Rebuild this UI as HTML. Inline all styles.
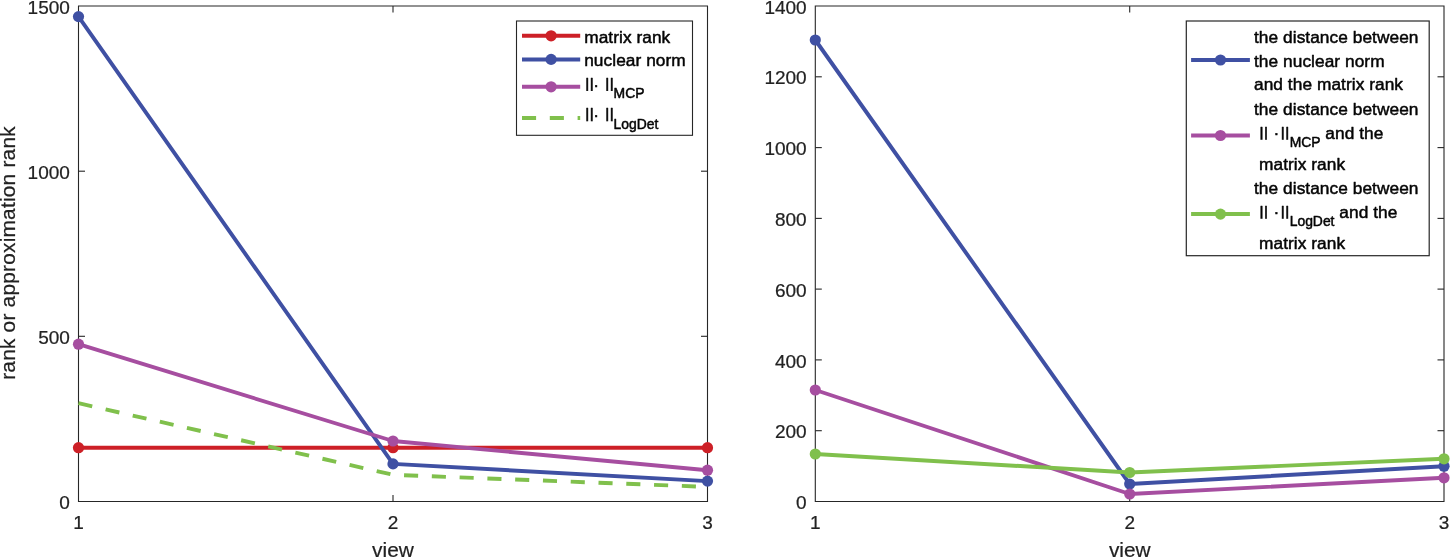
<!DOCTYPE html>
<html><head><meta charset="utf-8"><title>rank approximation</title>
<style>
html,body{margin:0;padding:0;background:#fff;}
body{width:1450px;height:558px;overflow:hidden;position:relative;}
svg{position:absolute;left:0;top:0;display:block;}
text{font-family:"Liberation Sans",Arial,Helvetica,sans-serif;fill:#222;stroke:#222;stroke-width:0.22px;stroke-linejoin:round;}
.lg,.sub{fill:#050505;stroke:#050505;stroke-width:0.48px;}
.tk{font-size:19px;}
.lb{font-size:20.9px;}
.lg{font-size:17.3px;letter-spacing:0.06px;}
.sub{font-size:13.9px;}
</style></head><body>
<svg width="1450" height="558" viewBox="0 0 1450 558">
<rect x="0" y="0" width="1450" height="558" fill="#ffffff"/>
<path d="M78.50 6.00H707.50V501.50H78.50Z" fill="none" stroke="#262626" stroke-width="1.1"/>
<text class="tk" text-anchor="middle" x="78.5" y="529.2">1</text>
<line x1="393.0" y1="501.5" x2="393.0" y2="495.0" stroke="#262626" stroke-width="1.1"/><line x1="393.0" y1="6.0" x2="393.0" y2="12.5" stroke="#262626" stroke-width="1.1"/><text class="tk" text-anchor="middle" x="393.0" y="529.2">2</text>
<text class="tk" text-anchor="middle" x="707.5" y="529.2">3</text>
<text class="tk" text-anchor="end" x="69.9" y="509.1">0</text>
<line x1="78.5" y1="336.3" x2="85.0" y2="336.3" stroke="#262626" stroke-width="1.1"/><line x1="707.5" y1="336.3" x2="701.0" y2="336.3" stroke="#262626" stroke-width="1.1"/><text class="tk" text-anchor="end" x="69.9" y="344.0">500</text>
<line x1="78.5" y1="171.2" x2="85.0" y2="171.2" stroke="#262626" stroke-width="1.1"/><line x1="707.5" y1="171.2" x2="701.0" y2="171.2" stroke="#262626" stroke-width="1.1"/><text class="tk" text-anchor="end" x="69.9" y="178.8">1000</text>
<text class="tk" text-anchor="end" x="69.9" y="13.7">1500</text>
<polyline fill="none" stroke="#cd2027" stroke-width="3.9" stroke-linejoin="round"  points="78.5,447.7 393.0,447.7 707.5,447.7"/><circle cx="78.5" cy="447.7" r="5.6" fill="#cd2027"/><circle cx="393.0" cy="447.7" r="5.6" fill="#cd2027"/><circle cx="707.5" cy="447.7" r="5.6" fill="#cd2027"/>
<polyline fill="none" stroke="#3f50a3" stroke-width="3.9" stroke-linejoin="round"  points="78.5,16.6 393.0,463.9 707.5,481.1"/><circle cx="78.5" cy="16.6" r="5.6" fill="#3f50a3"/><circle cx="393.0" cy="463.9" r="5.6" fill="#3f50a3"/><circle cx="707.5" cy="481.1" r="5.6" fill="#3f50a3"/>
<polyline fill="none" stroke="#a64ea0" stroke-width="3.9" stroke-linejoin="round"  points="78.5,344.2 393.0,441.0 707.5,470.2"/><circle cx="78.5" cy="344.2" r="5.6" fill="#a64ea0"/><circle cx="393.0" cy="441.0" r="5.6" fill="#a64ea0"/><circle cx="707.5" cy="470.2" r="5.6" fill="#a64ea0"/>
<polyline fill="none" stroke="#80c04c" stroke-width="3.9" stroke-linejoin="round" stroke-dasharray="14.1 13.7" points="78.5,403.2 393.0,474.8 707.5,486.9"/>
<text class="lb" text-anchor="middle" x="393" y="557.2">view</text>
<text class="lb" style="letter-spacing:0.2px" text-anchor="middle" transform="translate(15.3,253.0) rotate(-90)">rank or approximation rank</text>
<path d="M815.30 6.00H1444.00V501.50H815.30Z" fill="none" stroke="#262626" stroke-width="1.1"/>
<text class="tk" text-anchor="middle" x="815.3" y="529.2">1</text>
<line x1="1129.7" y1="501.5" x2="1129.7" y2="495.0" stroke="#262626" stroke-width="1.1"/><line x1="1129.7" y1="6.0" x2="1129.7" y2="12.5" stroke="#262626" stroke-width="1.1"/><text class="tk" text-anchor="middle" x="1129.7" y="529.2">2</text>
<text class="tk" text-anchor="middle" x="1444.0" y="529.2">3</text>
<text class="tk" text-anchor="end" x="806.7" y="509.1">0</text>
<line x1="815.3" y1="430.7" x2="821.8" y2="430.7" stroke="#262626" stroke-width="1.1"/><line x1="1444.0" y1="430.7" x2="1437.5" y2="430.7" stroke="#262626" stroke-width="1.1"/><text class="tk" text-anchor="end" x="806.7" y="438.4">200</text>
<line x1="815.3" y1="359.9" x2="821.8" y2="359.9" stroke="#262626" stroke-width="1.1"/><line x1="1444.0" y1="359.9" x2="1437.5" y2="359.9" stroke="#262626" stroke-width="1.1"/><text class="tk" text-anchor="end" x="806.7" y="367.6">400</text>
<line x1="815.3" y1="289.1" x2="821.8" y2="289.1" stroke="#262626" stroke-width="1.1"/><line x1="1444.0" y1="289.1" x2="1437.5" y2="289.1" stroke="#262626" stroke-width="1.1"/><text class="tk" text-anchor="end" x="806.7" y="296.8">600</text>
<line x1="815.3" y1="218.4" x2="821.8" y2="218.4" stroke="#262626" stroke-width="1.1"/><line x1="1444.0" y1="218.4" x2="1437.5" y2="218.4" stroke="#262626" stroke-width="1.1"/><text class="tk" text-anchor="end" x="806.7" y="226.0">800</text>
<line x1="815.3" y1="147.6" x2="821.8" y2="147.6" stroke="#262626" stroke-width="1.1"/><line x1="1444.0" y1="147.6" x2="1437.5" y2="147.6" stroke="#262626" stroke-width="1.1"/><text class="tk" text-anchor="end" x="806.7" y="155.2">1000</text>
<line x1="815.3" y1="76.8" x2="821.8" y2="76.8" stroke="#262626" stroke-width="1.1"/><line x1="1444.0" y1="76.8" x2="1437.5" y2="76.8" stroke="#262626" stroke-width="1.1"/><text class="tk" text-anchor="end" x="806.7" y="84.4">1200</text>
<text class="tk" text-anchor="end" x="806.7" y="13.7">1400</text>
<polyline fill="none" stroke="#3f50a3" stroke-width="3.9" stroke-linejoin="round"  points="815.3,40.0 1129.7,484.0 1444.0,466.2"/><circle cx="815.3" cy="40.0" r="5.6" fill="#3f50a3"/><circle cx="1129.7" cy="484.0" r="5.6" fill="#3f50a3"/><circle cx="1444.0" cy="466.2" r="5.6" fill="#3f50a3"/>
<polyline fill="none" stroke="#a64ea0" stroke-width="3.9" stroke-linejoin="round"  points="815.3,390.0 1129.7,494.0 1444.0,477.8"/><circle cx="815.3" cy="390.0" r="5.6" fill="#a64ea0"/><circle cx="1129.7" cy="494.0" r="5.6" fill="#a64ea0"/><circle cx="1444.0" cy="477.8" r="5.6" fill="#a64ea0"/>
<polyline fill="none" stroke="#80c04c" stroke-width="3.9" stroke-linejoin="round"  points="815.3,454.0 1129.7,472.5 1444.0,458.8"/><circle cx="815.3" cy="454.0" r="5.6" fill="#80c04c"/><circle cx="1129.7" cy="472.5" r="5.6" fill="#80c04c"/><circle cx="1444.0" cy="458.8" r="5.6" fill="#80c04c"/>
<text class="lb" text-anchor="middle" x="1129.8" y="557.2">view</text>
<rect x="516.5" y="21" width="176" height="114.3" fill="#fff" stroke="#262626" stroke-width="1.1"/>
<line x1="522.0" y1="35.8" x2="580.2" y2="35.8" stroke="#cd2027" stroke-width="4" /><circle cx="551.1" cy="35.8" r="5.6" fill="#cd2027"/>
<text class="lg" x="584.2" y="42.8">matrix rank</text>
<line x1="522.0" y1="59.4" x2="580.2" y2="59.4" stroke="#3f50a3" stroke-width="4" /><circle cx="551.1" cy="59.4" r="5.6" fill="#3f50a3"/>
<text class="lg" x="584.2" y="66.4">nuclear norm</text>
<line x1="522.0" y1="86.8" x2="580.2" y2="86.8" stroke="#a64ea0" stroke-width="4" /><circle cx="551.1" cy="86.8" r="5.6" fill="#a64ea0"/>
<text class="lg" x="585.0" y="89.9" clip-path="url(#c90)">||</text><text class="lg" text-anchor="middle" x="596.2" y="90.6">·</text><text class="lg" x="604.9" y="89.9" clip-path="url(#c90)">||</text><text class="sub" x="613.6" y="98.3">MCP</text><clipPath id="c90"><rect x="580.0" y="70.6" width="60" height="20.5"/></clipPath>
<line x1="522.0" y1="118.0" x2="580.2" y2="118.0" stroke="#80c04c" stroke-width="4" stroke-dasharray="14.1 13.7"/>
<text class="lg" x="585.0" y="120.0" clip-path="url(#c120)">||</text><text class="lg" text-anchor="middle" x="596.2" y="120.7">·</text><text class="lg" x="604.9" y="120.0" clip-path="url(#c120)">||</text><text class="sub" x="613.6" y="128.6">LogDet</text><clipPath id="c120"><rect x="580.0" y="100.7" width="60" height="20.5"/></clipPath>
<rect x="1186.3" y="21" width="242.9" height="234.7" fill="#fff" stroke="#262626" stroke-width="1.2"/>
<line x1="1191.1" y1="60.0" x2="1249.9" y2="60.0" stroke="#3f50a3" stroke-width="4" /><circle cx="1220.5" cy="60.0" r="5.6" fill="#3f50a3"/>
<text class="lg" x="1254.0" y="42.8">the distance between</text>
<text class="lg" x="1254.0" y="66.6">the nuclear norm</text>
<text class="lg" x="1254.0" y="90.3">and the matrix rank</text>
<text class="lg" x="1254.0" y="115.2">the distance between</text>
<text class="lg" x="1259.0" y="169.9">matrix rank</text>
<text class="lg" x="1254.0" y="194.2">the distance between</text>
<text class="lg" x="1259.0" y="248.5">matrix rank</text>
<line x1="1191.1" y1="135.5" x2="1249.9" y2="135.5" stroke="#a64ea0" stroke-width="4" /><circle cx="1220.5" cy="135.5" r="5.6" fill="#a64ea0"/>
<text class="lg" x="1259.2" y="138.5" clip-path="url(#c139)">||</text><text class="lg" text-anchor="middle" x="1276.3" y="139.2">·</text><text class="lg" x="1280.4" y="138.5" clip-path="url(#c139)">||</text><text class="sub" x="1289.7" y="147.0">MCP</text><text class="lg" x="1325.3" y="139.2">and the</text><clipPath id="c139"><rect x="1254.2" y="119.2" width="60" height="20.5"/></clipPath>
<line x1="1191.1" y1="214.1" x2="1249.9" y2="214.1" stroke="#80c04c" stroke-width="4" /><circle cx="1220.5" cy="214.1" r="5.6" fill="#80c04c"/>
<text class="lg" x="1259.2" y="217.5" clip-path="url(#c218)">||</text><text class="lg" text-anchor="middle" x="1276.3" y="218.2">·</text><text class="lg" x="1280.4" y="217.5" clip-path="url(#c218)">||</text><text class="sub" x="1289.7" y="225.7">LogDet</text><text class="lg" x="1339.3" y="218.2">and the</text><clipPath id="c218"><rect x="1254.2" y="198.2" width="60" height="20.5"/></clipPath>
</svg></body></html>
